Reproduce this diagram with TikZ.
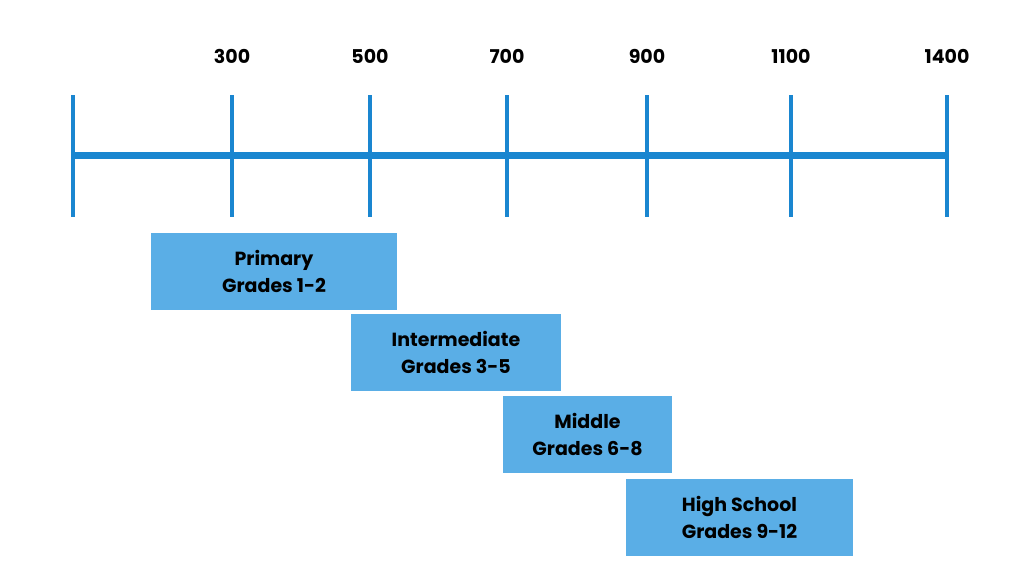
\documentclass[tikz,border=0pt]{standalone}
\usepackage{fontspec}
\setmainfont{Poppins}
\definecolor{axis}{HTML}{1A86D0}
\definecolor{boxc}{HTML}{5AAEE6}
\begin{document}
\begin{tikzpicture}[x=1pt,y=-1pt,
  tick/.style={axis,line width=4pt},
  lbl/.style={font=\fontsize{19}{22}\selectfont\bfseries,text=black},
  band/.style={fill=boxc,draw=none,align=center,font=\fontsize{19}{27}\selectfont\bfseries,text=black}]
\useasboundingbox[fill=white] (0,0) rectangle (1024,576);
\coordinate (L) at (73,155); \coordinate (R) at (947,155);
\draw[axis,line width=7pt] (L) -- (R);
\foreach \x/\t in {73/,232/300,370/500,507/700,647/900,791/1100,947/1400}{
  \draw[tick] (\x,95) -- (\x,217);
  \node[lbl] (t\x) at (\x,56) {\t};
}
\node[band,minimum width=246pt,minimum height=77pt] (p) at (274,271.5) {Primary\\Grades 1-2};
\node[band,minimum width=210pt,minimum height=77pt] (i) at (456,352.5) {Intermediate\\Grades 3-5};
\node[band,minimum width=169pt,minimum height=77pt] (m) at (587.5,434.5) {Middle\\Grades 6-8};
\node[band,minimum width=227pt,minimum height=77pt] (h) at (739.5,517.5) {High School\\Grades 9-12};
\end{tikzpicture}
\end{document}
